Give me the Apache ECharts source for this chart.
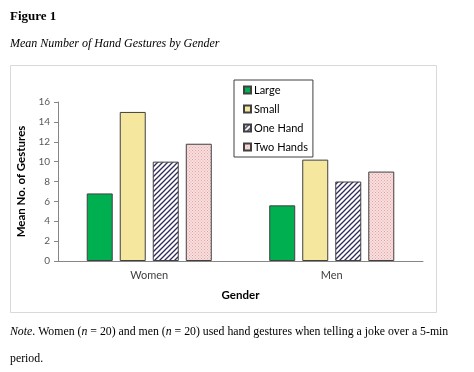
<!DOCTYPE html>
<html><head><meta charset="utf-8">
<script src="https://cdn.jsdelivr.net/npm/echarts@6/dist/echarts.min.js"></script>
<style>html,body{margin:0;padding:0;background:#fff}#c{width:474px;height:372px}</style>
</head><body><div id="c"></div>
<script>
const categories = ['Women', 'Men'];
const seriesNames = ['Large', 'Small', 'One Hand', 'Two Hands'];
const large = [6.8, 5.6];
const small = [15.0, 10.2];
const oneHand = [10.0, 8.0];
const twoHands = [11.8, 9.0];
const yTicks = [0, 2, 4, 6, 8, 10, 12, 14, 16];

function hatch() {
  const c = document.createElement('canvas'); c.width = 5; c.height = 5;
  const g = c.getContext('2d');
  g.fillStyle = '#ffffff'; g.fillRect(0, 0, 5, 5);
  g.strokeStyle = '#2e2b5c'; g.lineWidth = 1.3;
  g.beginPath();
  g.moveTo(-1, 6); g.lineTo(6, -1);
  g.moveTo(-1, 1); g.lineTo(1, -1);
  g.moveTo(4, 6); g.lineTo(6, 4);
  g.stroke();
  return c;
}
function dots() {
  const c = document.createElement('canvas'); c.width = 3; c.height = 3;
  const g = c.getContext('2d');
  g.fillStyle = '#f9e0e0'; g.fillRect(0, 0, 3, 3);
  g.fillStyle = '#e4a2a2'; g.fillRect(0, 0, 1, 1); g.fillRect(1.5, 1.5, 1, 1);
  return c;
}
const fills = ['#00b050', '#f5e79e', {image: hatch(), repeat: 'repeat'}, {image: dots(), repeat: 'repeat'}];
const datas = [large, small, oneHand, twoHands];

const chart = echarts.init(document.getElementById('c'), null, {renderer: 'canvas'});
chart.setOption({
  animation: false,
  backgroundColor: '#ffffff',
  graphic: [{
    type: 'rect', left: 10, top: 65, z: -10,
    shape: {width: 426, height: 247},
    style: {fill: '#ffffff', stroke: '#d9d9d9', lineWidth: 1}
  }],
  title: [
    {text: 'Figure 1', left: 10, top: 10, padding: 0,
     textStyle: {fontFamily: 'Liberation Serif', fontWeight: 'bold', fontSize: 13, color: '#000'}},
    {text: 'Mean Number of Hand Gestures by Gender', left: 10, top: 38, padding: 0,
     textStyle: {fontFamily: 'Liberation Serif', fontStyle: 'italic', fontWeight: 'normal', fontSize: 12, color: '#000'}},
    {text: '{i|Note}. Women ({i|n} = 20) and men ({i|n} = 20) used hand gestures when telling a joke over a 5-min', left: 10, top: 326, padding: 0,
     textStyle: {fontFamily: 'Liberation Serif', fontWeight: 'normal', fontSize: 11.8, color: '#000',
       rich: {i: {fontFamily: 'Liberation Serif', fontStyle: 'italic', fontSize: 11.8, color: '#000'}}}},
    {text: 'period.', left: 10, top: 353, padding: 0,
     textStyle: {fontFamily: 'Liberation Serif', fontWeight: 'normal', fontSize: 11.8, color: '#000'}}
  ],
  legend: {
    orient: 'vertical', left: 234, top: 80,
    itemWidth: 7, itemHeight: 7, itemGap: 5,
    padding: [3, 5, 3, 9],
    borderColor: '#404040', borderWidth: 1,
    icon: 'rect',
    textStyle: {fontFamily: 'Lato', fontSize: 11, color: '#000', lineHeight: 14, padding: [0, 0, 0, -2]},
    data: seriesNames
  },
  grid: {left: 58, right: 51, top: 102, bottom: 111, containLabel: false},
  xAxis: {
    type: 'category', data: categories,
    name: 'Gender', nameLocation: 'middle', nameGap: 28,
    nameTextStyle: {fontFamily: 'Lato', fontWeight: 'bold', fontSize: 11.5, color: '#000'},
    axisLine: {lineStyle: {color: '#868686', width: 1}},
    axisTick: {show: false},
    axisLabel: {fontFamily: 'Lato', fontSize: 11, color: '#404040', margin: 9}
  },
  yAxis: {
    type: 'value', min: 0, max: 16, interval: 2,
    name: 'Mean No. of Gestures', nameLocation: 'middle', nameGap: 22,
    nameTextStyle: {fontFamily: 'Lato', fontWeight: 'bold', fontSize: 11.5, color: '#000'},
    axisLine: {show: true, lineStyle: {color: '#868686', width: 1}},
    axisTick: {show: true, length: 4, lineStyle: {color: '#868686'}},
    splitLine: {show: false},
    axisLabel: {fontFamily: 'Lato', fontSize: 10, color: '#595959', margin: 8,
      formatter: v => yTicks.includes(v) ? String(v) : ''}
  },
  series: seriesNames.map((n, i) => ({
    name: n, type: 'bar', data: datas[i],
    barWidth: 26, barGap: '27%',
    itemStyle: {color: fills[i], borderColor: '#404040', borderWidth: 1}
  }))
});
</script></body></html>
